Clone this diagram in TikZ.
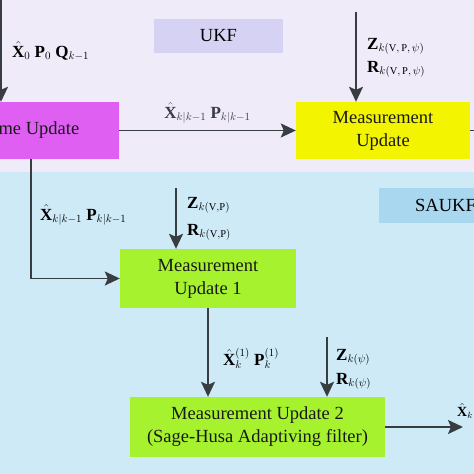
\documentclass[tikz,border=0pt]{standalone}
\usepackage{fontspec}
\setmainfont{Liberation Serif}
\newfontfamily\boxfont{Liberation Serif}
\DeclareMathSizes{17}{17}{10.5}{8}
\DeclareMathSizes{14}{14}{9}{7}
\usetikzlibrary{arrows.meta,positioning}

\definecolor{ukfbg}{HTML}{EFEBF9}
\definecolor{saukfbg}{HTML}{CDEAF6}
\definecolor{ukftag}{HTML}{D6D2F4}
\definecolor{saukftag}{HTML}{A9D7EF}
\definecolor{tucolor}{HTML}{DE5FF2}
\definecolor{mucolor}{HTML}{F2F400}
\definecolor{limecolor}{HTML}{A6F22E}
\definecolor{arrowgray}{HTML}{383D42}

\begin{document}
\begin{tikzpicture}[x=1pt,y=-1pt]
        % Common styles
        \tikzstyle{box}=[inner sep=0pt, align=center, text=black!90, font=\boxfont\fontsize{18.5}{23}\selectfont]
        \tikzstyle{tag}=[inner sep=0pt, font=\boxfont\fontsize{18.5}{23}\selectfont]
        \tikzstyle{flow}=[-{Stealth[length=15pt,width=14pt,inset=3pt]}, line width=1.8pt, arrowgray]
        \tikzstyle{lbl}=[anchor=base west, inner sep=0pt, font=\boxfont\fontsize{17}{20}\selectfont]

        \useasboundingbox (0,0) rectangle (474,474);
        \clip (0,0) rectangle (474,474);

        % --- Backgrounds ---
        \fill[ukfbg] (0,0) rectangle (474,172);
        \fill[saukfbg] (0,172) rectangle (474,474);

        % --- UKF part ---
        \node[tag, fill=ukftag, minimum width=129pt, minimum height=34pt] (ukf) at (218.5,36) {UKF};
        \node[box, fill=tucolor, minimum width=176pt, minimum height=57pt] (tu) at (31,130.5) {Time Update};
        \node[box, fill=mucolor, minimum width=174pt, minimum height=57pt] (mu) at (383,130.5) {Measurement\\Update};

        % inputs
        \coordinate (in0) at (1,0);
        \draw[flow] (in0) -- (in0 |- tu.north);
        \node[lbl] (x0) at (12,57) {$\hat{\mathbf{X}}_0\ \mathbf{P}_0\ \mathbf{Q}_{k-1}$};

        \draw[flow] (tu.east) -- node[midway, above=6pt, inner sep=0pt, font=\boxfont\fontsize{17}{20}\selectfont] (xpred) {$\hat{\mathbf{X}}_{k|k-1}\ \mathbf{P}_{k|k-1}$} (mu.west);

        \coordinate (zin) at (356,12);
        \draw[flow] (zin) -- (zin |- mu.north);
        \node[lbl] (zall) at (367,49) {$\mathbf{Z}_{k(\mathrm{V,\,P,\,}\psi)}$};
        \node[lbl] (rall) at (367,72) {$\mathbf{R}_{k(\mathrm{V,\,P,\,}\psi)}$};

        \coordinate (muout) at (482,130.5);
        \draw[line width=1.8pt, arrowgray] (mu.east) -- (muout);

        % --- SAUKF part ---
        \node[tag, fill=saukftag, minimum width=133pt, minimum height=35pt] (saukf) at (445.5,205.5) {SAUKF};
        \node[box, fill=limecolor, minimum width=176pt, minimum height=59pt] (mu1) at (208,278.5) {Measurement\\Update 1};
        \node[box, fill=limecolor, minimum width=255pt, minimum height=60pt] (mu2) at (257.5,427) {Measurement Update 2\\(Sage-Husa Adaptiving filter)};

        \draw[flow] (tu.south) -- (tu.south |- mu1.west) -- (mu1.west);
        \node[lbl] (xpred1) at (40,220) {$\hat{\mathbf{X}}_{k|k-1}\ \mathbf{P}_{k|k-1}$};

        \coordinate (z1in) at (176,188);
        \draw[flow] (z1in) -- (z1in |- mu1.north);
        \node[lbl] (zvp) at (187,208) {$\mathbf{Z}_{k(\mathrm{V,P})}$};
        \node[lbl] (rvp) at (187,235) {$\mathbf{R}_{k(\mathrm{V,P})}$};

        \draw[flow] (mu1.south) -- (mu1.south |- mu2.north);
        \node[lbl] (x1) at (223,365) {$\hat{\mathbf{X}}_k^{(1)}\ \mathbf{P}_k^{(1)}$};

        \coordinate (z2in) at (327,337);
        \draw[flow] (z2in) -- (z2in |- mu2.north);
        \node[lbl] (zpsi) at (336,360) {$\mathbf{Z}_{k(\psi)}$};
        \node[lbl] (rpsi) at (336,384) {$\mathbf{R}_{k(\psi)}$};

        % output
        \coordinate (xend) at (463,427);
        \draw[flow] (mu2.east) -- (xend);
        \node[lbl, font=\boxfont\fontsize{14}{16}\selectfont] (xk) at (457,416) {$\hat{\mathbf{X}}_k$};

    \end{tikzpicture}
\end{document}
